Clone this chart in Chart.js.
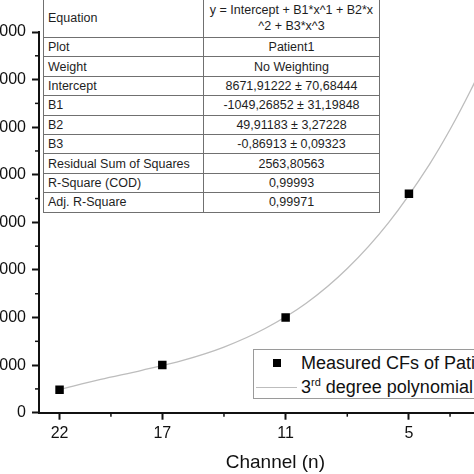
<!DOCTYPE html>
<html>
<head>
<meta charset="utf-8">
<script src="https://cdn.jsdelivr.net/npm/chart.js@4"></script>
<style>
  html, body { margin: 0; padding: 0; width: 474px; height: 474px; overflow: hidden; background: #fff; }
  body { position: relative; font-family: "Liberation Sans", Arial, sans-serif; }
  #wrap { position: absolute; left: -60px; top: 0; width: 600px; height: 474px; }
  #fitTable {
    position: absolute; left: 43px; top: -1px; width: 336px;
    border-collapse: collapse; table-layout: fixed; background: #fff;
    font-size: 12.5px; color: #1e1e1e;
  }
  #fitTable td { border: 1px solid #707070; padding: 0 4px; height: 18.4px; line-height: 14px; white-space: nowrap; }
  #fitTable td.v { text-align: center; }
  #fitTable tr.head td { height: 37px; line-height: 15.5px; }
  #legend {
    position: absolute; left: 253px; top: 349px; width: 260px; height: 48px;
    border: 1px solid #9a9a9a; background: #fff; color: #111;
    font-size: 18px; white-space: nowrap;
  }
  #legend .row { position: absolute; left: 0; height: 24px; line-height: 24px; }
  #legend .mark { position: absolute; left: 19px; top: 8px; width: 8px; height: 8px; background: #000; }
  #legend .ln { position: absolute; left: 2px; top: 12px; width: 41px; height: 1px; background: #bdbdbd; }
  #legend .txt { position: absolute; left: 47px; }
  #legend sup { font-size: 11px; line-height: 0; vertical-align: 7px; }
</style>
</head>
<body>
<div id="wrap"><canvas id="chart"></canvas></div>

<table id="fitTable">
  <colgroup><col style="width:160px"><col style="width:176px"></colgroup>
  <tbody id="tbody"></tbody>
</table>

<div id="legend">
  <div class="row" style="top:1px"><span class="mark"></span><span class="txt">Measured CFs of Patient1</span></div>
  <div class="row" style="top:25px"><span class="ln"></span><span class="txt">3<sup>rd</sup> degree polynomial fit</span></div>
</div>

<script>
// measured points
const channels = [22, 17, 11, 5];
const measuredCF = [480, 1000, 2000, 4600];

// fitted curve
const fitChannels = [22, 20, 18, 16, 14, 12, 10, 8, 6, 4, 3, 2, 1];
const fitValues = [490, 700, 890, 1100, 1380, 1770, 2300, 3030, 3990, 5220, 5950, 6770, 7670];

// axis ticks
const xTicks = [22, 17, 11, 5, 1];
const xMinor = [19.5, 14, 8, 3];
const yMinor = [500, 1500, 2500, 3500, 4500, 5500, 6500, 7500];

// fit report table
const tableLabels = ["Equation", "Plot", "Weight", "Intercept", "B1", "B2", "B3",
  "Residual Sum of Squares", "R-Square (COD)", "Adj. R-Square"];
const tableValues = ["y = Intercept + B1*x^1 + B2*x<br>^2 + B3*x^3", "Patient1", "No Weighting",
  "8671,91222 ± 70,68444", "-1049,26852 ± 31,19848", "49,91183 ± 3,27228",
  "-0,86913 ± 0,09323", "2563,80563", "0,99993", "0,99971"];

const tbody = document.getElementById("tbody");
tableLabels.forEach((lab, i) => {
  const tr = document.createElement("tr");
  if (i == 0) tr.className = "head";
  tr.innerHTML = "<td>" + lab + "</td><td class='v'>" + tableValues[i] + "</td>";
  tbody.appendChild(tr);
});

const minorTicks = {
  id: "minorTicks",
  afterDraw(chart) {
    const ctx = chart.ctx;
    const area = chart.chartArea;
    const x = chart.scales.x, y = chart.scales.y;
    ctx.save();
    ctx.strokeStyle = "#111";
    ctx.lineWidth = 1.5;
    xMinor.forEach(v => {
      const px = x.getPixelForValue(v);
      ctx.beginPath();
      ctx.moveTo(px, area.bottom);
      ctx.lineTo(px, area.bottom + 4);
      ctx.stroke();
    });
    yMinor.forEach(v => {
      const py = y.getPixelForValue(v);
      ctx.beginPath();
      ctx.moveTo(area.left, py);
      ctx.lineTo(area.left - 4, py);
      ctx.stroke();
    });
    ctx.restore();
  }
};

const font = { family: "'Liberation Sans', Arial, sans-serif", size: 16 };

new Chart(document.getElementById("chart"), {
  type: "scatter",
  data: {
    datasets: [
      {
        label: "Measured CFs of Patient1",
        data: channels.map((c, i) => ({ x: c, y: measuredCF[i] })),
        pointStyle: "rect",
        pointRadius: 6,
        backgroundColor: "#000",
        borderColor: "#000",
        borderWidth: 0
      },
      {
        label: "3rd degree polynomial fit",
        data: fitChannels.map((c, i) => ({ x: c, y: fitValues[i] })),
        showLine: true,
        pointRadius: 0,
        borderColor: "#bdbdbd",
        borderWidth: 1.3,
        cubicInterpolationMode: "monotone"
      }
    ]
  },
  options: {
    responsive: true,
    maintainAspectRatio: false,
    animation: false,
    layout: { padding: { top: 32, right: 28.3, left: 0, bottom: 0 } },
    plugins: { legend: { display: false }, tooltip: { enabled: false } },
    scales: {
      x: {
        type: "linear",
        reverse: true,
        min: 0,
        max: 23,
        afterBuildTicks: scale => { scale.ticks = xTicks.map(v => ({ value: v })); },
        afterFit: scale => { scale.height = 61.3; },
        border: { color: "#111", width: 2 },
        grid: { drawOnChartArea: false, tickLength: 7, tickColor: "#111", tickWidth: 2 },
        ticks: { color: "#111", font: font, padding: 4, maxRotation: 0, callback: v => String(v) },
        title: { display: true, text: "Channel (n)", color: "#111",
          font: { family: font.family, size: 19 }, padding: { top: 0, bottom: 0 } }
      },
      y: {
        min: 0,
        max: 8000,
        afterFit: scale => { scale.width = 99; },
        border: { color: "#111", width: 2 },
        grid: { drawOnChartArea: false, tickLength: 7, tickColor: "#111", tickWidth: 2 },
        ticks: { stepSize: 1000, color: "#111", font: font, padding: 6, callback: v => String(v) }
      }
    }
  },
  plugins: [minorTicks]
});
</script>
</body>
</html>
